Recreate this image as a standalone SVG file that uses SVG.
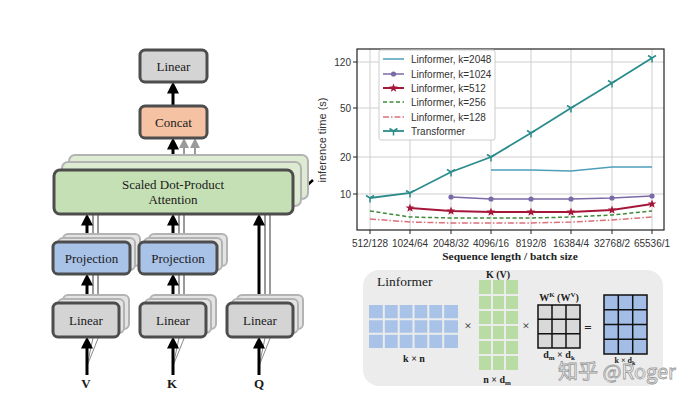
<svg xmlns="http://www.w3.org/2000/svg" xmlns:xlink="http://www.w3.org/1999/xlink" width="700" height="402" viewBox="0 0 700 402">
<defs>
<style>
.box{stroke:#4d4d4d;stroke-width:3}
.sh{stroke:#b3b3b3;stroke-width:2}
.lin{fill:#d4d4d4}
.proj{fill:#a9c2e8}
.att{fill:#c6e0b5}
.shl{fill:#e4e4e4}
.sha{fill:#dcebd2}
.lbl{font-family:"Liberation Serif","Times New Roman",serif;font-size:13px;fill:#1a1a1a;text-anchor:middle}
.io{font-family:"Liberation Serif",serif;font-size:13px;font-weight:bold;fill:#1a1a1a;text-anchor:middle}
.ar{stroke:#000;stroke-width:3;fill:none}
.ga{stroke:#9a9a9a;stroke-width:2;fill:none}
.fan{stroke:#8a8a8a;stroke-width:1;fill:none}
.tk{font-family:"Liberation Sans",Arial,sans-serif;font-size:10px;fill:#333}
.grid{stroke:#cfcfcf;stroke-width:1}
.ml{font-family:"Liberation Serif",serif;font-size:10px;font-weight:bold;fill:#222;text-anchor:middle}
.op{font-family:"Liberation Serif",serif;font-size:13px;fill:#222;text-anchor:middle}
</style>
<marker id="ah" markerWidth="4" markerHeight="4" refX="2.2" refY="2" orient="auto" markerUnits="strokeWidth"><path d="M0,0 L4,2 L0,4 Z" fill="#000"/></marker>
<marker id="gah" markerWidth="5" markerHeight="5" refX="2.5" refY="2.5" orient="auto" markerUnits="strokeWidth"><path d="M0,0 L5,2.5 L0,5 Z" fill="#9a9a9a"/></marker>
<polygon id="star" points="0,-4.5 1.12,-1.54 4.28,-1.39 1.81,0.59 2.65,3.64 0,1.9 -2.65,3.64 -1.81,0.59 -4.28,-1.39 -1.12,-1.54" fill="#a5173a"/>
<circle id="dot" r="2.6" fill="#7a6aa8"/>
<path id="tri" d="M0,0 L0,4.5 M0,0 L-4,-2.5 M0,0 L4,-2.5" stroke="#2b8c8c" stroke-width="1.5" fill="none"/>
</defs>
<rect width="700" height="402" fill="#fff"/>

<!-- connectors -->
<g id="connectors">
<line class="fan" x1="87" y1="366" x2="93" y2="338"/>
<line class="fan" x1="87" y1="366" x2="99" y2="336"/>
<line class="fan" x1="173" y1="366" x2="179" y2="338"/>
<line class="fan" x1="173" y1="366" x2="185" y2="336"/>
<line class="fan" x1="259" y1="366" x2="265" y2="338"/>
<line class="fan" x1="259" y1="366" x2="271" y2="336"/>
<line class="ar" x1="87" y1="375" x2="87" y2="342" marker-end="url(#ah)"/>
<line class="ar" x1="173" y1="375" x2="173" y2="342" marker-end="url(#ah)"/>
<line class="ar" x1="259" y1="375" x2="259" y2="342" marker-end="url(#ah)"/>
<line class="ga" x1="93" y1="300" x2="93" y2="272"/>
<line class="ga" x1="98" y1="296" x2="98" y2="268"/>
<line class="ga" x1="179" y1="300" x2="179" y2="272"/>
<line class="ga" x1="184" y1="296" x2="184" y2="268"/>
<line class="ar" x1="87" y1="303" x2="87" y2="279" marker-end="url(#ah)"/>
<line class="ar" x1="173" y1="303" x2="173" y2="279" marker-end="url(#ah)"/>
<line class="ga" x1="93" y1="239" x2="93" y2="213"/>
<line class="ga" x1="98" y1="235" x2="98" y2="213"/>
<line class="ga" x1="179" y1="239" x2="179" y2="213"/>
<line class="ga" x1="184" y1="235" x2="184" y2="213"/>
<line class="ga" x1="265" y1="300" x2="265" y2="213"/>
<line class="ga" x1="270" y1="296" x2="270" y2="213"/>
<line class="ar" x1="87" y1="242" x2="87" y2="219" marker-end="url(#ah)"/>
<line class="ar" x1="173" y1="242" x2="173" y2="219" marker-end="url(#ah)"/>
<line class="ar" x1="259" y1="303" x2="259" y2="219" marker-end="url(#ah)"/>
<line class="ga" x1="184" y1="162" x2="184" y2="143" marker-end="url(#gah)"/>
<line class="ga" x1="195" y1="155" x2="195" y2="143" marker-end="url(#gah)"/>
<line class="ar" x1="173" y1="170" x2="173" y2="143" marker-end="url(#ah)"/>
<line class="ar" x1="173" y1="106" x2="173" y2="87" marker-end="url(#ah)"/>
<path d="M284,199 Q286,204 290,201 L313,180" stroke="#000" stroke-width="2.5" fill="none"/>
</g>

<g id="linear-top"><rect class="box lin" x="140" y="50" width="67" height="32" rx="5"/><text class="lbl" x="173.5" y="70.5">Linear</text></g>
<g id="concat"><rect class="box" fill="#f5c2a3" x="140" y="106" width="67" height="32" rx="5"/><text class="lbl" x="173.5" y="126.5">Concat</text></g>
<g id="attention">
<rect class="sh sha" x="69" y="155" width="239" height="44" rx="6"/>
<rect class="sh sha" x="62" y="162" width="239" height="44" rx="6"/>
<rect class="box att" x="54" y="170" width="239" height="44" rx="6"/>
<text class="lbl" x="173" y="189">Scaled Dot-Product</text>
<text class="lbl" x="173" y="204">Attention</text>
</g>
<g id="projection-v">
<rect class="sh shl" x="63" y="234" width="77" height="32" rx="5"/>
<rect class="sh shl" x="58" y="238" width="77" height="32" rx="5"/>
<rect class="box proj" x="53" y="242" width="77" height="32" rx="5"/>
<text class="lbl" x="91.5" y="262.5">Projection</text>
</g>
<g id="projection-k">
<rect class="sh shl" x="149" y="234" width="78" height="32" rx="5"/>
<rect class="sh shl" x="144" y="238" width="78" height="32" rx="5"/>
<rect class="box proj" x="139" y="242" width="78" height="32" rx="5"/>
<text class="lbl" x="178" y="262.5">Projection</text>
</g>
<g id="linear-v">
<rect class="sh shl" x="63" y="295" width="66" height="34" rx="5"/>
<rect class="sh shl" x="58" y="299" width="66" height="34" rx="5"/>
<rect class="box lin" x="53" y="303" width="66" height="34" rx="5"/>
<text class="lbl" x="86" y="324.5">Linear</text>
</g>
<g id="linear-k">
<rect class="sh shl" x="150" y="295" width="66" height="34" rx="5"/>
<rect class="sh shl" x="145" y="299" width="66" height="34" rx="5"/>
<rect class="box lin" x="140" y="303" width="66" height="34" rx="5"/>
<text class="lbl" x="173" y="324.5">Linear</text>
</g>
<g id="linear-q">
<rect class="sh shl" x="237" y="295" width="66" height="34" rx="5"/>
<rect class="sh shl" x="232" y="299" width="66" height="34" rx="5"/>
<rect class="box lin" x="227" y="303" width="66" height="34" rx="5"/>
<text class="lbl" x="260" y="324.5">Linear</text>
</g>
<g id="inputs">
<text class="io" x="86" y="388">V</text>
<text class="io" x="172" y="388">K</text>
<text class="io" x="259" y="388">Q</text>
</g>

<!-- chart -->
<g id="chart">
<g class="grid">
<line x1="370" y1="49" x2="370" y2="230"/><line x1="410" y1="49" x2="410" y2="230"/><line x1="451" y1="49" x2="451" y2="230"/><line x1="491" y1="49" x2="491" y2="230"/><line x1="531" y1="49" x2="531" y2="230"/><line x1="571" y1="49" x2="571" y2="230"/><line x1="612" y1="49" x2="612" y2="230"/><line x1="652" y1="49" x2="652" y2="230"/>
<line x1="357" y1="62" x2="664" y2="62"/><line x1="357" y1="108" x2="664" y2="108"/><line x1="357" y1="157" x2="664" y2="157"/><line x1="357" y1="194" x2="664" y2="194"/>
</g>
<rect x="357" y="49" width="307" height="181" fill="none" stroke="#222" stroke-width="1.2"/>
<g stroke="#222" stroke-width="1">
<line x1="353" y1="62" x2="357" y2="62"/><line x1="353" y1="108" x2="357" y2="108"/><line x1="353" y1="157" x2="357" y2="157"/><line x1="353" y1="194" x2="357" y2="194"/>
<line x1="370" y1="230" x2="370" y2="234"/><line x1="410" y1="230" x2="410" y2="234"/><line x1="451" y1="230" x2="451" y2="234"/><line x1="491" y1="230" x2="491" y2="234"/><line x1="531" y1="230" x2="531" y2="234"/><line x1="571" y1="230" x2="571" y2="234"/><line x1="612" y1="230" x2="612" y2="234"/><line x1="652" y1="230" x2="652" y2="234"/>
</g>
<g class="tk" text-anchor="end">
<text x="351" y="66">120</text><text x="351" y="112">50</text><text x="351" y="161">20</text><text x="351" y="198">10</text>
</g>
<g class="tk" text-anchor="middle">
<text x="370" y="247">512/128</text><text x="410" y="247">1024/64</text><text x="451" y="247">2048/32</text><text x="491" y="247">4096/16</text><text x="531" y="247">8192/8</text><text x="571" y="247">16384/4</text><text x="612" y="247">32768/2</text><text x="652" y="247">65536/1</text>
</g>
<text class="tk" transform="translate(326,140) rotate(-90)" text-anchor="middle" style="font-size:11px">inference time (s)</text>
<text x="510" y="260" font-family="Liberation Serif,serif" font-size="11.4" font-weight="bold" fill="#222" text-anchor="middle">Sequence length / batch size</text>

<polyline points="370,219 410,222 451,223 491,223 531,223 571,222 612,220 652,217" fill="none" stroke="#d9707a" stroke-width="1.5" stroke-dasharray="6,2,1.5,2"/>
<polyline points="370,211 410,217 451,218 491,218 531,218 571,217 612,215 652,211" fill="none" stroke="#3f8a3a" stroke-width="1.5" stroke-dasharray="4,2.5"/>
<polyline points="410,208 451,211 491,212 531,212 571,212 612,210 652,204" fill="none" stroke="#a5173a" stroke-width="2"/>
<g><use href="#star" x="410" y="208"/><use href="#star" x="451" y="211"/><use href="#star" x="491" y="212"/><use href="#star" x="531" y="212"/><use href="#star" x="571" y="212"/><use href="#star" x="612" y="210"/><use href="#star" x="652" y="204"/></g>
<polyline points="451,197 491,199 531,199 571,199 612,198 652,196" fill="none" stroke="#7a6aa8" stroke-width="1.5"/>
<g><use href="#dot" x="451" y="197"/><use href="#dot" x="491" y="199"/><use href="#dot" x="531" y="199"/><use href="#dot" x="571" y="199"/><use href="#dot" x="612" y="198"/><use href="#dot" x="652" y="196"/></g>
<polyline points="491,170 531,170 571,171 612,167 652,167" fill="none" stroke="#4f9fba" stroke-width="1.5"/>
<polyline points="370,198 410,193 451,172 491,157 531,133 571,108 612,83 652,58" fill="none" stroke="#2b8c8c" stroke-width="1.8"/>
<g><use href="#tri" x="370" y="198"/><use href="#tri" x="410" y="193"/><use href="#tri" x="451" y="172"/><use href="#tri" x="491" y="157"/><use href="#tri" x="531" y="133"/><use href="#tri" x="571" y="108"/><use href="#tri" x="612" y="83"/><use href="#tri" x="652" y="58"/></g>

<g id="legend">
<rect x="379" y="50" width="116" height="90" rx="2" fill="#fff" fill-opacity="0.9" stroke="#cccccc" stroke-width="1"/>
<line x1="383" y1="59" x2="404" y2="59" stroke="#4f9fba" stroke-width="1.5"/>
<line x1="383" y1="74" x2="404" y2="74" stroke="#7a6aa8" stroke-width="1.5"/><use href="#dot" x="393.5" y="74"/>
<line x1="383" y1="88" x2="404" y2="88" stroke="#a5173a" stroke-width="2"/><use href="#star" x="393.5" y="88"/>
<line x1="383" y1="102" x2="404" y2="102" stroke="#3f8a3a" stroke-width="1.5" stroke-dasharray="4,2.5"/>
<line x1="383" y1="117" x2="404" y2="117" stroke="#d9707a" stroke-width="1.5" stroke-dasharray="6,2,1.5,2"/>
<line x1="383" y1="131" x2="404" y2="131" stroke="#2b8c8c" stroke-width="1.8"/><use href="#tri" x="393.5" y="131"/>
<g class="tk">
<text x="411" y="62.5">Linformer, k=2048</text>
<text x="411" y="77.5">Linformer, k=1024</text>
<text x="411" y="91.5">Linformer, k=512</text>
<text x="411" y="105.5">Linformer, k=256</text>
<text x="411" y="120.5">Linformer, k=128</text>
<text x="411" y="134.5">Transformer</text>
</g>
</g>
</g>

<!-- Linformer panel -->
<g id="linformer-panel">
<rect x="363" y="270" width="300" height="116" rx="16" fill="#ececec"/>
<text x="377" y="286" font-family="Liberation Serif,serif" font-size="13.5" fill="#1a1a1a">Linformer</text>
<g id="matrix-kn">
<rect x="369" y="305" width="89" height="43" fill="#a9c2e8"/>
<g stroke="#ececec" stroke-width="2">
<line x1="383.8" y1="305" x2="383.8" y2="348"/><line x1="398.7" y1="305" x2="398.7" y2="348"/><line x1="413.5" y1="305" x2="413.5" y2="348"/><line x1="428.3" y1="305" x2="428.3" y2="348"/><line x1="443.2" y1="305" x2="443.2" y2="348"/>
<line x1="369" y1="319.3" x2="458" y2="319.3"/><line x1="369" y1="333.7" x2="458" y2="333.7"/>
</g>
<text class="ml" x="414" y="362">k × n</text>
</g>
<text class="op" x="468" y="330">×</text>
<g id="matrix-kv">
<rect x="479" y="280" width="39" height="90" fill="#b8dca3"/>
<g stroke="#ececec" stroke-width="2">
<line x1="492" y1="280" x2="492" y2="370"/><line x1="505" y1="280" x2="505" y2="370"/>
<line x1="479" y1="295" x2="518" y2="295"/><line x1="479" y1="310" x2="518" y2="310"/><line x1="479" y1="325" x2="518" y2="325"/><line x1="479" y1="340" x2="518" y2="340"/><line x1="479" y1="355" x2="518" y2="355"/>
</g>
<text class="ml" x="498" y="278">K (V)</text>
<text class="ml" x="497" y="383">n × d<tspan font-size="7" dy="2">m</tspan></text>
</g>
<text class="op" x="526" y="330">×</text>
<g id="matrix-w">
<rect x="538" y="305" width="42" height="43" fill="#d9d9d9" stroke="#111" stroke-width="1.5"/>
<g stroke="#111" stroke-width="1.5">
<line x1="552" y1="305" x2="552" y2="348"/><line x1="566" y1="305" x2="566" y2="348"/>
<line x1="538" y1="319.3" x2="580" y2="319.3"/><line x1="538" y1="333.7" x2="580" y2="333.7"/>
</g>
<text class="ml" x="559" y="301">W<tspan font-size="7" dy="-4">K</tspan><tspan dy="4"> (W</tspan><tspan font-size="7" dy="-4">V</tspan><tspan dy="4">)</tspan></text>
<text class="ml" x="559" y="358">d<tspan font-size="7" dy="2">m</tspan><tspan dy="-2"> × d</tspan><tspan font-size="7" dy="2">k</tspan></text>
</g>
<text class="op" x="588" y="332" style="font-weight:bold">=</text>
<g id="matrix-out">
<rect x="604" y="295" width="43" height="59" fill="#a3bde6" stroke="#111" stroke-width="1.5"/>
<g stroke="#111" stroke-width="1.5">
<line x1="618.3" y1="295" x2="618.3" y2="354"/><line x1="632.7" y1="295" x2="632.7" y2="354"/>
<line x1="604" y1="309.75" x2="647" y2="309.75"/><line x1="604" y1="324.5" x2="647" y2="324.5"/><line x1="604" y1="339.25" x2="647" y2="339.25"/>
</g>
<text class="ml" x="625" y="363" style="font-size:8px">k × d<tspan font-size="6" dy="2">k</tspan></text>
</g>
<text x="558" y="379" font-family="Noto Sans CJK SC,Liberation Sans,sans-serif" font-size="20" fill="#ffffff" fill-opacity="0.85" stroke="#9a9a9a" stroke-width="0.8">知乎 @Roger</text>
</g>
</svg>
